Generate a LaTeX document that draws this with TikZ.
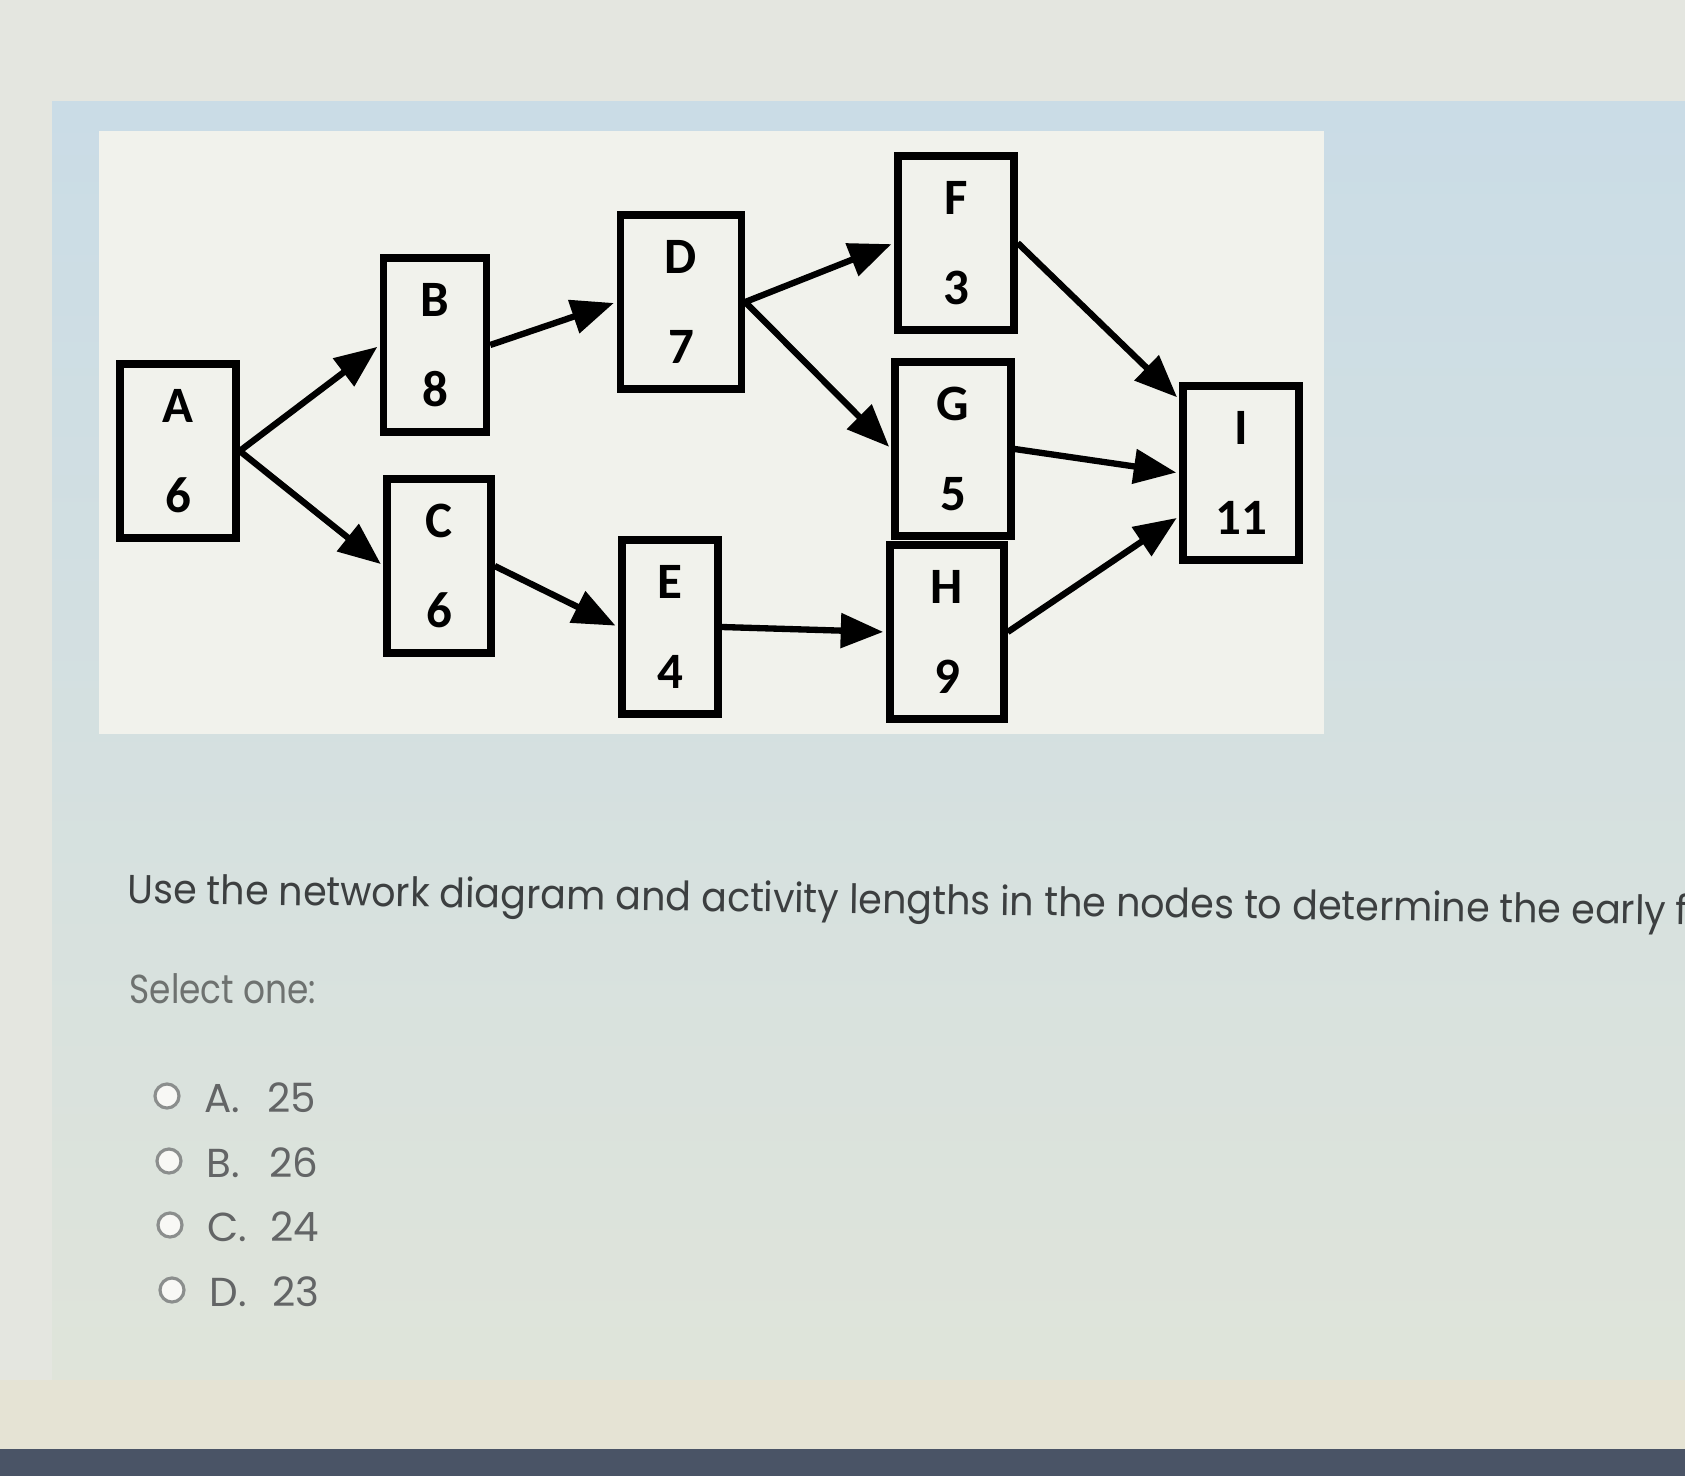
\documentclass[tikz,border=0pt]{standalone}
\usepackage{fontspec}
\setmainfont{Carlito}
\newfontfamily\quizfont{Poppins}
\usetikzlibrary{arrows,positioning}

\definecolor{screengrey}{HTML}{E4E6E0}
\definecolor{panelblue}{HTML}{CADCE6}
\definecolor{panelgreen}{HTML}{DFE4DA}
\definecolor{beigestrip}{HTML}{E5E3D4}
\definecolor{chartwhite}{HTML}{F1F2EC}
\definecolor{barblue}{HTML}{4A5466}
\definecolor{qtext}{HTML}{3C3F40}
\definecolor{qgrey}{HTML}{6E7270}

\begin{document}
\begin{tikzpicture}[x=0.01cm,y=-0.01cm,>=triangle 45,shorten >=1pt]
    \tikzstyle{act}=[draw,line width=2.1pt,fill=chartwhite,minimum width=1.16cm,minimum height=1.74cm,inner sep=0pt,align=center,font=\bfseries\fontsize{14.5}{25.5}\selectfont]
    \tikzstyle{link}=[->,line width=1.8pt]
    \tikzstyle{quiz}=[anchor=base west,inner sep=0pt,font=\quizfont\fontsize{11.5}{14}\selectfont]
    \tikzstyle{radio}=[draw=qgrey!80,line width=0.9pt,fill=white!50!chartwhite,circle,minimum size=0.24cm,inner sep=0pt]

    % screen background
    \useasboundingbox (0,0) rectangle (1685,1476);
    \fill[screengrey] (0,0) rectangle (1685,1476);
    \shade[top color=panelblue,bottom color=panelgreen] (52,102) rectangle (1685,1380);
    \fill[beigestrip] (0,1380) rectangle (1685,1449);
    \fill[barblue] (0,1449) rectangle (1685,1476);
    \fill[chartwhite] (99,131) rectangle (1324,734);

    \node[act]                    (A) at (178,451)  {A\\6};
    \node[act,minimum width=1.03cm] (B) at (435,345)  {B\\8};
    \node[act,minimum width=1.04cm] (C) at (439,566)  {C\\6};
    \node[act,minimum width=1.21cm] (D) at (681,302)  {D\\7};
    \node[act,minimum width=0.96cm] (E) at (670,627)  {E\\4};
    \node[act]                    (F) at (956,243)  {F\\3};
    \node[act]                    (G) at (953,449)  {G\\5};
    \node[act,minimum width=1.14cm] (H) at (947,632)  {H\\9};
    \node[act]                    (I) at (1241,473) {I\\11};

    \draw[link] (A.east) -- (B.west);
    \draw[link] (A.east) -- (C.west);
    \draw[link] (B.east) -- (D.west);
    \draw[link] (C.east) -- (E.west);
    \draw[link] (D.east) -- (F.west);
    \draw[link] (D.east) -- (G.west);
    \draw[link] (E.east) -- (H.west);
    \draw[link] (F.east) -- (I.130);
    \draw[link] (G.east) -- (I.west);
    \draw[link] (H.east) -- (I.215);

    % question
    \node[quiz,text=qtext,rotate=-0.8,xscale=0.94] (question) at (127,903) {Use the network diagram and activity lengths in the nodes to determine the early fi};
    \node[quiz,text=qgrey,xscale=0.85] (select) at (129,1003) {Select one:};
    \foreach \ltr/\val/\xx/\yy in {A/25/167/1112, B/26/169/1177, C/24/170/1241, D/23/172/1306} {
        \node[radio] (radio\ltr) at (\xx,\yy-16) {};
        \node[quiz,text=qtext!80] (letter\ltr) at (\xx+37,\yy) {\ltr.};
        \node[quiz,text=qtext!80] (value\ltr) at (\xx+100,\yy) {\val};
    }
\end{tikzpicture}
\end{document}
